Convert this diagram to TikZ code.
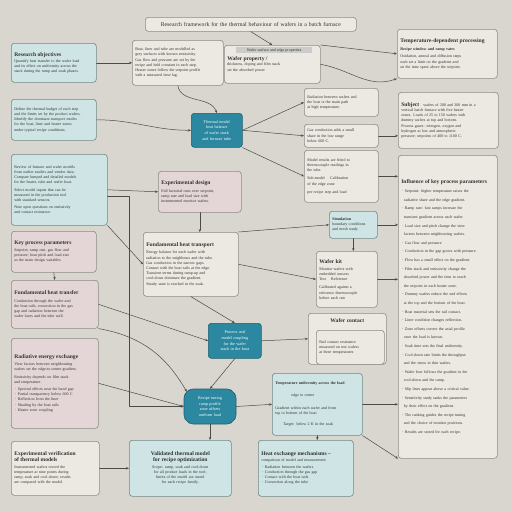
\documentclass[tikz,border=0pt]{standalone}
\usepackage{fontspec}
\setmainfont{Liberation Serif}
\usetikzlibrary{arrows.meta,shapes.misc}

\definecolor{bgpaper}{HTML}{D8D6CE}
\definecolor{lightfill}{HTML}{ECE9E2}
\definecolor{tealfill}{HTML}{CFE4E4}
\definecolor{pinkfill}{HTML}{E4D6D6}
\definecolor{darkteal}{HTML}{2B88A0}
\definecolor{edgegray}{HTML}{8C8B86}
\definecolor{wiregray}{HTML}{4A4A48}
\definecolor{inkgray}{HTML}{333333}

\newcommand{\boxhead}[1]{{\fontsize{5.6}{6.6}\selectfont\bfseries #1}}

\begin{document}
\begin{tikzpicture}[x=1pt, y=-1pt, line cap=round, line join=round,
  card/.style={draw=edgegray, line width=0.6pt, rounded corners=3pt, anchor=north west,
    align=left, inner xsep=3pt, inner ysep=2pt, text=inkgray,
    font=\fontsize{4}{5.2}\selectfont},
  lightcard/.style={card, fill=lightfill},
  tealcard/.style={card, fill=tealfill, draw=edgegray!80!teal},
  pinkcard/.style={card, fill=pinkfill},
  darkcard/.style={card, fill=darkteal, draw=darkteal!70!black, text=white, align=center,
    font=\fontsize{4.2}{5.6}\selectfont},
  wire/.style={draw=wiregray, line width=0.5pt, -{Stealth[length=3pt,width=2.4pt]}}]

  % paper
  \useasboundingbox (0,0) rectangle (512,512);
  \fill[bgpaper] (0,0) rectangle (512,512);

  % title
  \node[lightcard, text width=205, minimum height=14pt, align=center, font=\fontsize{5.8}{6.6}\selectfont]
    (title) at (145,17) {Research framework for the thermal behaviour of wafers in a batch furnace};

  % left column
  \node[tealcard, text width=79, minimum height=39pt] (objectives) at (11,43)
    {\boxhead{Research objectives}\\[1pt] Quantify heat transfer to the wafer load\\ and its effect on uniformity across the\\ stack during the ramp and soak phases.};
  \node[tealcard, text width=79, minimum height=41pt] (budget) at (11,99)
    {Define the thermal budget of each step\\ and the limits set by the product wafers.\\ Identify the dominant transport modes\\ for the boat, liner and heater zones\\ under typical recipe conditions.};
  \node[tealcard, text width=90, minimum height=71pt] (review) at (11,154)
    {Review of furnace and wafer models\\ from earlier studies and vendor data.\\ Compare lumped and detailed models\\ for the heater, tube and wafer boat.\\[2pt] Select model inputs that can be\\ measured in the production tool\\ with standard sensors.\\[2pt] Note open questions on emissivity\\ and contact resistance.};
  \node[pinkcard, text width=79, minimum height=41pt] (keyparam) at (11,231)
    {\boxhead{Key process parameters}\\[1pt] Setpoint, ramp rate, gas flow and\\ pressure; boat pitch and load size\\ as the main design variables.};
  \node[pinkcard, text width=81, minimum height=48pt] (heatbasics) at (11,280)
    {\boxhead{Fundamental heat transfer}\\[2pt] Conduction through the wafer and\\ the boat rails, convection in the gas\\ gap and radiation between the\\ wafer faces and the tube wall.};
  \node[pinkcard, text width=81, minimum height=90pt] (radiation) at (11,338)
    {\boxhead{Radiative energy exchange}\\[2pt] View factors between neighbouring\\ wafers set the edge-to-centre gradient.\\[2pt] Emissivity depends on film stack\\ and temperature.\\[2pt] $\cdot$ Spectral effects near the band gap\\ $\cdot$ Partial transparency below 600 C\\ $\cdot$ Reflection from the liner\\ $\cdot$ Shading by the boat rails\\ $\cdot$ Heater zone coupling};
  \node[lightcard, text width=82, minimum height=54pt] (verify) at (11,441)
    {\boxhead{Experimental verification}\\ \boxhead{of thermal models}\\[2pt] Instrumented wafers record the\\ temperature at nine points during\\ ramp, soak and cool-down; results\\ are compared with the model.};

  % centre column
  \node[lightcard, text width=85, minimum height=45pt] (assume) at (132,40)
    {Boat, liner and tube are modelled as\\ grey surfaces with known emissivity.\\ Gas flow and pressure are set by the\\ recipe and held constant in each step.\\ Heater zones follow the setpoint profile\\ with a measured time lag.};
  \node[lightcard, text width=90, minimum height=38pt] (waferprop) at (224,45)
    {\\[-1pt]\boxhead{Wafer property /}\\ thickness, doping and film stack\\ set the absorbed power};
  \node[fill=edgegray!45, anchor=north west, inner sep=1pt, text=inkgray,
    font=\fontsize{4}{5}\selectfont, minimum width=76pt] (waferhead) at (236,47)
    {Wafer surface and edge properties};
  \node[darkcard, text width=45, minimum height=34pt] (thermalmodel) at (191,113)
    {Thermal model\\ heat balance\\ of wafer stack\\ and furnace tube};
  \node[pinkcard, text width=77, minimum height=41pt] (expdesign) at (158,171)
    {\boxhead{Experimental design}\\[2pt] Full factorial runs over setpoint,\\ ramp rate and load size with\\ instrumented monitor wafers.};
  \node[lightcard, text width=89, minimum height=64pt] (transport) at (143,232)
    {\boxhead{Fundamental heat transport}\\[2pt] Energy balance for each wafer with\\ radiation to the neighbours and the tube.\\ Gas conduction in the narrow gaps.\\ Contact with the boat rails at the edge.\\ Transient terms during ramp-up and\\ cool-down dominate the gradient.\\ Steady state is reached in the soak.};
  \node[darkcard, text width=47, minimum height=35pt] (coupling) at (208,323)
    {Process and\\ model coupling\\ for the wafer\\ stack in the boat};
  \node[darkcard, chamfered rectangle, chamfered rectangle xsep=3pt, anchor=center,
    text width=40, minimum height=35pt] (optimize) at (210,406.5)
    {Recipe tuning\\ ramp profile\\ zone offsets\\ uniform load};
  \node[tealcard, text width=96, minimum height=56pt, align=center] (validated) at (129,440)
    {\boxhead{Validated thermal model}\\ \boxhead{for recipe optimization}\\[2pt] Scope: ramp, soak and cool-down\\ for all product loads in the tool;\\ limits of the model are stated\\ for each recipe family.};

  % right-centre column
  \node[lightcard, text width=68, minimum height=28pt] (radpath) at (304,88)
    {Radiation between wafers and\\ the boat is the main path\\ at high temperature.};
  \node[lightcard, text width=68, minimum height=23pt] (gaspath) at (304,124)
    {Gas conduction adds a small\\ share in the low range\\ below 600 C.};
  \node[lightcard, text width=68, minimum height=52pt] (fitting) at (304,150)
    {Model results are fitted to\\ thermocouple readings in\\ the tube.\\[3pt] Sub-model \quad Calibration\\ of the edge zone\\[3pt] per recipe step and load};
  \node[tealcard, text width=42, minimum height=27pt] (simulation) at (329,211)
    {\textbf{Simulation}\\ boundary conditions\\ and mesh study};
  \node[lightcard, text width=55, minimum height=56pt] (waferkit) at (316,251)
    {\boxhead{Wafer kit}\\[2pt] Monitor wafers with\\ embedded sensors\\ Test \quad Reference\\[3pt] Calibrated against a\\ reference thermocouple\\ before each run};
  \node[lightcard, minimum width=78pt, minimum height=51pt] (contact) at (308,313) {};
  \node[anchor=north, text=inkgray, inner sep=1pt] (contacthead) at ([yshift=-4pt]contact.north)
    {\boxhead{Wafer contact}};
  \node[lightcard, text width=62, minimum height=34pt] (contactnote) at (316,330)
    {Rail contact resistance\\ measured on test wafers\\ at three temperatures};
  \node[tealcard, text width=84, minimum height=62pt] (uniformity) at (272,373)
    {\textbf{Temperature uniformity across the load}\\[6pt] \qquad\qquad edge to centre\\[8pt] Gradient within each wafer and from\\ top to bottom of the boat\\[6pt] \qquad Target: below 2 K in the soak};
  \node[tealcard, text width=89, minimum height=56pt] (mechanisms) at (258,440)
    {\boxhead{Heat exchange mechanisms --}\\ comparison of model and measurement\\[2pt] $\cdot$ Radiation between the wafers\\ $\cdot$ Conduction through the gas gap\\ $\cdot$ Contact with the boat rails\\ $\cdot$ Convection along the tube};

  % right column
  \node[lightcard, text width=94, minimum height=49pt] (processing) at (397,29)
    {\boxhead{Temperature-dependent processing}\\[3pt] \textbf{Recipe window and ramp rates}\\[2pt] Oxidation, anneal and diffusion steps\\ each set a limit on the gradient and\\ on the time spent above the setpoint.};
  \node[lightcard, text width=94, minimum height=56pt] (subject) at (398,92)
    {\boxhead{Subject}\quad wafers of 200 and 300 mm in a\\ vertical batch furnace with five heater\\ zones. Loads of 25 to 150 wafers with\\ dummy wafers at top and bottom.\\ Process gases: nitrogen, oxygen and\\ hydrogen at low and atmospheric\\ pressure; setpoints of 400 to 1100 C.};
  \node[lightcard, text width=93, minimum height=303pt, font=\fontsize{4}{8.6}\selectfont] (influence) at (398,155)
    {\boxhead{Influence of key process parameters}\\[1pt]
     $\cdot$ Setpoint: higher temperature raises the\\ \ \ radiative share and the edge gradient.\\
     $\cdot$ Ramp rate: fast ramps increase the\\ \ \ transient gradient across each wafer.\\
     $\cdot$ Load size and pitch change the view\\ \ \ factors between neighbouring wafers.\\
     $\cdot$ Gas flow and pressure\\
     $\cdot$ Conduction in the gap grows with pressure.\\
     $\cdot$ Flow has a small effect on the gradient.\\
     $\cdot$ Film stack and emissivity change the\\ \ \ absorbed power and the time to reach\\ \ \ the setpoint in each heater zone.\\
     $\cdot$ Dummy wafers reduce the end effects\\ \ \ at the top and the bottom of the boat.\\
     $\cdot$ Boat material sets the rail contact.\\
     $\cdot$ Liner condition changes reflection.\\
     $\cdot$ Zone offsets correct the axial profile\\ \ \ once the load is known.\\
     $\cdot$ Soak time sets the final uniformity.\\
     $\cdot$ Cool-down rate limits the throughput\\ \ \ and the stress in thin wafers.\\
     $\cdot$ Wafer bow follows the gradient in the\\ \ \ cool-down and the ramp.\\
     $\cdot$ Slip lines appear above a critical value.\\
     $\cdot$ Sensitivity study ranks the parameters\\ \ \ by their effect on the gradient.\\
     $\cdot$ The ranking guides the recipe tuning\\ \ \ and the choice of monitor positions.\\
     $\cdot$ Results are stored for each recipe.};

  % connectors
  \draw[wire] (objectives.east) -- (assume.west);
  \draw[wire] (budget.east) to[out=0, in=180] (thermalmodel.west);
  \draw[wire] (assume.south) to[out=-80, in=110] (thermalmodel.north);
  \draw[wire] (title.south) -- (waferprop.north);
  \draw[wire] (waferprop.north east) -- (processing.west);
  \draw[wire] (waferprop.east) to[out=-10, in=200] (processing.south west);
  \draw[wire] (thermalmodel.east) -- (radpath.west);
  \draw[wire] (thermalmodel.east) -- (gaspath.west);
  \draw[wire] (thermalmodel.south east) -- (fitting.west);
  \draw[wire] (gaspath.east) -- (subject.west |- gaspath.east);
  \draw[wire] (fitting.east) -- (influence.west |- fitting.east);
  \draw[wire] (simulation.east) -- (influence.west |- simulation.east);
  \draw[wire] (waferkit.east) -- (influence.west |- waferkit.east);
  \draw[wire] (simulation.south) -- (simulation.south |- waferkit.north);
  \draw[wire] (transport.north east) -- (simulation.west);
  \draw[wire] (transport.east) -- (waferkit.west);
  \draw[wire] (review.east) -- (expdesign.west);
  \draw[wire] (review.south east) -- (transport.west);
  \draw[wire] ([yshift=-6pt]review.east) -- ++(22,0) |- (optimize.west);
  \draw[wire] (keyparam.south) -- (heatbasics.north);
  \draw[wire] (expdesign.south) -- (expdesign.south |- transport.north);
  \draw[wire] (transport.south) -- (coupling.north);
  \draw[wire] (heatbasics.east) -- (coupling.west);
  \draw[wire] (heatbasics.south east) to[out=-10, in=120] (optimize.north west);
  \draw[wire] (radiation.east) -- (optimize.west);
  \draw[wire] (coupling.south) -- (optimize.north);
  \draw[wire] (optimize.south) -- (optimize.south |- validated.north);
  \draw[wire] (verify.east) -- (validated.west);
  \draw[wire] (optimize.east) -- (uniformity.west);
  \draw[wire] (coupling.east) -- (contact.west);
  \draw[wire] (uniformity.east) -- (influence.west |- uniformity.east);
  \draw[wire] (uniformity.south east) -- (influence.south west);
  \draw[wire] (uniformity.south) -- (uniformity.south |- mechanisms.north);

\end{tikzpicture}
\end{document}
